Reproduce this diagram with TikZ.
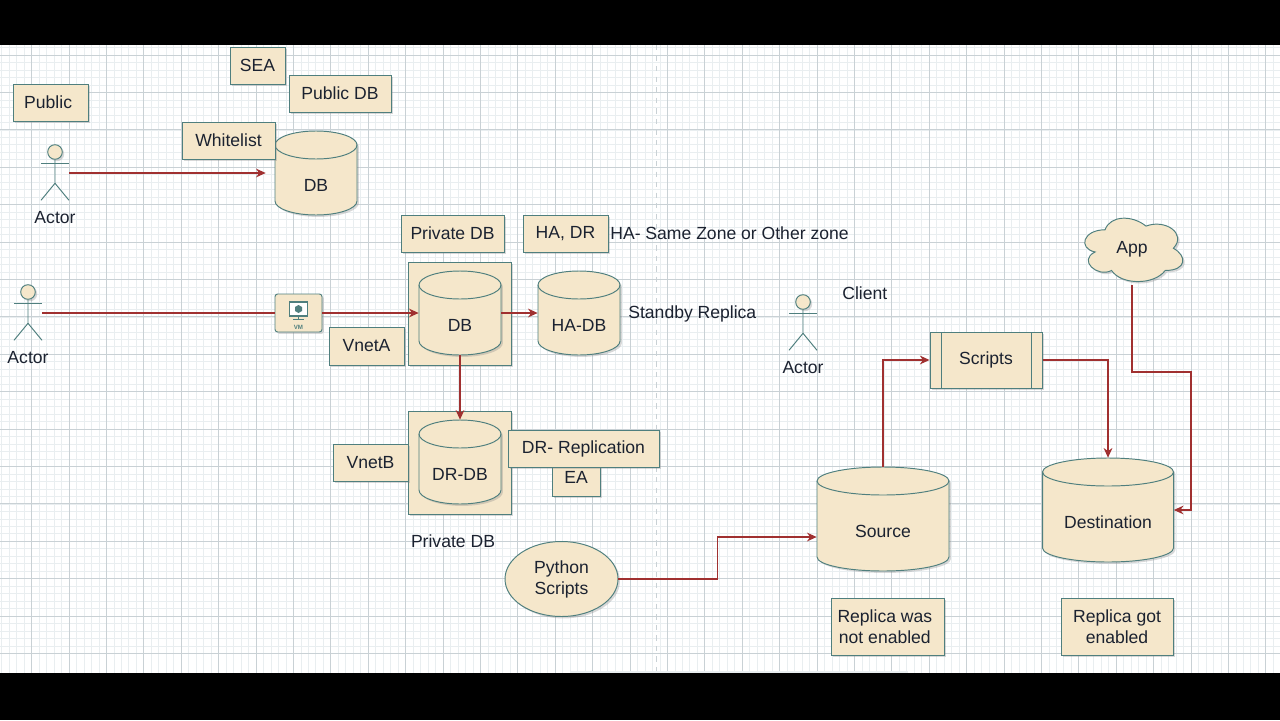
\documentclass[tikz,border=0pt]{standalone}
\usepackage{fontspec}
\setmainfont{Liberation Sans}
\usetikzlibrary{shapes.geometric,shadows,arrows.meta,calc}

\definecolor{sand}{HTML}{F5E7CB}
\definecolor{teal}{HTML}{4F7F7E}
\definecolor{wire}{HTML}{A03030}
\definecolor{ink}{HTML}{1B2230}
\definecolor{minorgrid}{HTML}{E9EEF0}
\definecolor{majorgrid}{HTML}{C9D1D5}

\tikzset{
  shade/.style={drop shadow={shadow xshift=1.1pt,shadow yshift=-1.1pt,opacity=0.3}},
  box/.style={draw=teal,fill=sand,line width=0.55pt,shade,text=ink,inner sep=0pt,align=center},
  tag/.style={box,rectangle},
  free/.style={text=ink,inner sep=0pt},
  link/.style={draw=wire,line width=0.7pt},
  linkto/.style={link,-{Stealth[length=5.5pt,width=5pt]}},
  limb/.style={draw=teal,line width=0.55pt}
}

\begin{document}
\begin{tikzpicture}[x=0.02cm,y=-0.02cm,font=\fontsize{10}{12}\selectfont]
\def\u{0.02cm}
% name, centre x, centre y, width, height, text
\def\dbcan#1#2#3#4#5#6{
  \draw[box] ({#2-#4/2},{#3-#5/2+14}) arc[start angle=180,end angle=0,x radius=#4/2*\u,y radius=14*\u]
    -- ({#2+#4/2},{#3+#5/2-14}) arc[start angle=0,end angle=-180,x radius=#4/2*\u,y radius=14*\u] -- cycle;
  \draw[limb] ({#2-#4/2},{#3-#5/2+14}) arc[start angle=180,end angle=360,x radius=#4/2*\u,y radius=14*\u];
  \node[inner sep=0pt,minimum width=#4*\u,minimum height=#5*\u,label={[free,yshift=-12*\u]center:#6}] (#1) at (#2,#3) {};
}
\useasboundingbox (0,0) rectangle (1280,720);
\fill[white] (0,0) rectangle (1280,720);

% Draw grid
\foreach \i in {0,...,172} \draw[minorgrid,line width=0.3pt] ({-5.9+7.48*\i},45) -- ++(0,628);
\foreach \i in {0,...,84} \draw[minorgrid,line width=0.3pt] (0,{17.6+7.48*\i}) -- ++(1280,0);
\foreach \i in {0,...,34} \draw[majorgrid,line width=0.4pt] ({-5.9+37.4*\i},45) -- ++(0,628);
\foreach \i in {0,...,17} \draw[majorgrid,line width=0.4pt] (0,{17.6+37.4*\i}) -- ++(1280,0);
% Page breaks
\draw[majorgrid,dashed,line width=0.5pt] (656,45) -- (656,673);
\draw[majorgrid,dashed,line width=0.5pt] (0,316) -- (1280,316);

% Actors
\foreach \name/\ax/\ay in {actorA/55/152,actorB/28/292,actorC/803/302}{
  \node[box,circle,minimum size=14.6*\u] (\name) at (\ax,\ay) {};
  \draw[limb] (\name.south) -- ++(0,23.5) coordinate (\name hip) -- ++(-14,17);
  \draw[limb] (\name hip) -- ++(14,17);
  \draw[limb] ($(\name)+(-14,11)$) -- ++(28,0);
  \node[free] (\name label) at ($(\name)+(0,65.5)$) {Actor};
}
\coordinate (actorAhand) at (69,173);
\coordinate (actorBhand) at (42,313);

% Labels on the left
\node[tag,minimum width=74.5*\u,minimum height=37*\u] (public) at (50.8,102.5) {Public\kern3pt};
\node[tag,minimum width=55*\u,minimum height=37*\u] (sea) at (257.5,65.5) {SEA};
\node[tag,minimum width=102*\u,minimum height=37*\u] (publicdb) at (340,93.5) {Public DB};

% Public database
\dbcan{dbpublic}{316}{173}{82}{84}{DB}
\node[tag,minimum width=93*\u,minimum height=37*\u] (whitelist) at (228.5,140.5) {Whitelist};
\coordinate (dbpublicin) at ($(dbpublic.west)+(-9,0)$);
\draw[linkto] (actorAhand) -- (dbpublicin);

% Private database
\node[tag,minimum width=103*\u,minimum height=37*\u] (privatedb) at (452.5,233.5) {Private DB};
\node[tag,minimum width=85*\u,minimum height=37*\u] (hadr) at (565.5,233.5) {HA, DR};
\node[free,anchor=west] (zone) at (610,233.5) {HA- Same Zone or Other zone};
\node[tag,minimum width=103*\u,minimum height=103*\u] (vneta box) at (459.5,313.5) {};
\dbcan{dbmain}{460}{313}{82}{84}{DB}
\dbcan{hadb}{579}{313}{82}{84}{HA-DB}
\node[free,anchor=west] (standby) at (628,313.5) {Standby Replica};
\node[tag,minimum width=75*\u,minimum height=38*\u] (vneta) at (366.5,346) {VnetA};

% VM icon
\node[box,rectangle,rounded corners=1.5pt,minimum width=47*\u,minimum height=38*\u] (vm) at (298.5,313) {};
\draw[teal,line width=0.7pt,fill=white] (289.5,302) rectangle (307.5,316);
\fill[teal] (295,307) -- (298.5,305) -- (302,307) -- (302,311) -- (298.5,313) -- (295,311) -- cycle;
\draw[teal,line width=0.8pt] (298.5,316) -- (298.5,319) (293,319.5) -- (304,319.5);
\node[text=teal,inner sep=0pt,font=\bfseries\fontsize{3.5}{4}\selectfont] (vmlabel) at (298.5,327) {VM};

\draw[link] (actorBhand) -- (vm.west);
\draw[linkto] (vm.east) -- (dbmain.west);
\draw[linkto] (dbmain.east) -- (hadb.west);

% DR database
\node[tag,minimum width=103*\u,minimum height=103*\u] (vnetb box) at (459.5,462.5) {};
\dbcan{dbdr}{460}{462}{82}{84}{DR-DB}
\node[tag,minimum width=75*\u,minimum height=37*\u] (vnetb) at (370.5,462.5) {VnetB};
\node[tag,minimum width=48*\u,minimum height=37*\u] (ea) at (576,477.5) {EA};
\node[tag,minimum width=151*\u,minimum height=37*\u] (replication) at (583.5,448.5) {DR- Replication};
\node[free] (privatefree) at (453,541.5) {Private DB};
\draw[linkto] (dbmain.south) -- (dbdr.north);

% Right side
\node[free,anchor=west] (client) at (842,293.5) {Client};
\node[box,rectangle,minimum width=112*\u,minimum height=56*\u,
  path picture={\draw[teal,line width=0.55pt]
    ([xshift=11*\u]path picture bounding box.north west) -- ([xshift=11*\u]path picture bounding box.south west)
    ([xshift=-11*\u]path picture bounding box.north east) -- ([xshift=-11*\u]path picture bounding box.south east);}] (scripts) at (986,360) {\raisebox{-1pt}{Scripts}};

% Cloud, in fractions of its box
\begin{scope}[shift={(1077.6,211.3)},x=2.19cm,y=-1.48cm]
\draw[box] (.25,.25) .. controls (.05,.25) and (0,.5) .. (.16,.55)
  .. controls (0,.66) and (.18,.9) .. (.31,.8)
  .. controls (.4,1) and (.7,1) .. (.8,.8)
  .. controls (1,.8) and (1,.6) .. (.875,.5)
  .. controls (1,.3) and (.8,.1) .. (.625,.2)
  .. controls (.5,.05) and (.3,.05) .. (.25,.25) -- cycle;
\end{scope}
\node[free,minimum height=72*\u] (app) at (1132,249) {App};

\dbcan{source}{883}{519}{132}{104}{Source}
\dbcan{destination}{1108}{510}{131}{104}{Destination}
\node[box,ellipse,minimum width=113*\u,minimum height=75*\u] (python) at (561.5,579) {Python\\Scripts};
\node[tag,minimum width=113*\u,minimum height=57*\u] (notenabled) at (887.5,626.5) {Replica was\kern3pt\\not enabled\kern3pt};
\node[tag,minimum width=112*\u,minimum height=57*\u] (enabled) at (1117,626.5) {Replica got\\enabled};

\coordinate (sourcein) at ($(source.west)+(0,18)$);
\coordinate (appelbow) at (1191,372);
\draw[linkto] (python.east) -- ++(99,0) |- (sourcein);
\draw[linkto] (source.north) |- (scripts.west);
\draw[linkto] (scripts.east) -| (destination.north);
\draw[linkto] (app.south) |- (appelbow) |- (destination.east);

% Black bars of the recording
\fill[black] (0,0) rectangle (1280,45);
\fill[black] (0,673) rectangle (1280,720);
\fill[minorgrid] (570,671) rectangle (908,673);
\end{tikzpicture}
\end{document}
